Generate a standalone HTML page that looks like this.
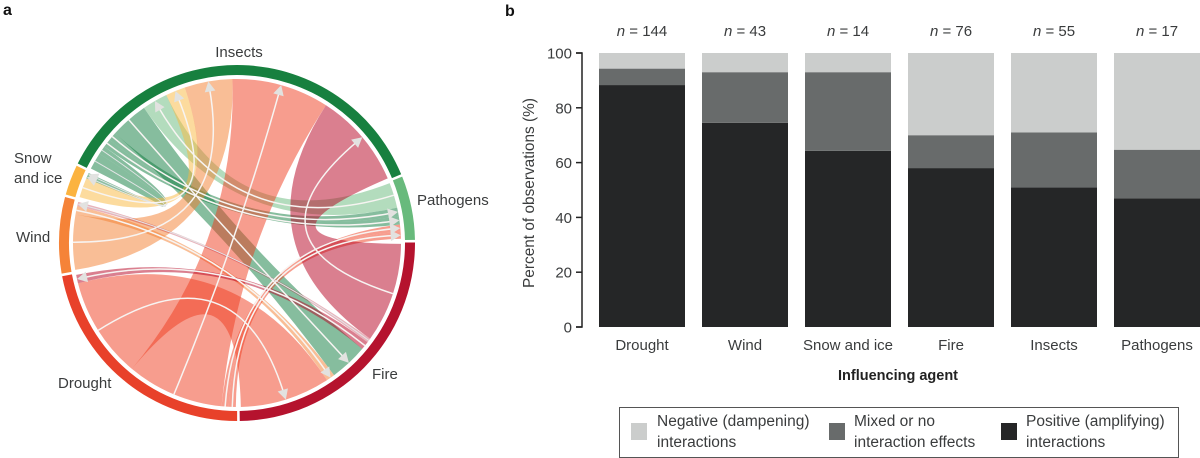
<!DOCTYPE html>
<html lang="en">
<head>
<meta charset="utf-8">
<title>Disturbance interactions</title>
<style>
html,body{margin:0;padding:0;background:#fff;width:1200px;height:458px;overflow:hidden}
svg{display:block}
text{font-family:"Liberation Sans",sans-serif;fill:#3a3c3d;font-size:15px}
.lg{font-size:15.5px}
</style>
</head>
<body>
<svg id="fig" width="1200" height="458" viewBox="0 0 1200 458" xmlns="http://www.w3.org/2000/svg">
  <text x="3" y="15" style="font-weight:bold;font-size:16px;fill:#111">a</text>
  <text x="505" y="16" style="font-weight:bold;font-size:16px;fill:#111">b</text>
  <g id="chord"></g>
  <g id="bars"></g>
  <text transform="translate(534,193) rotate(-90)" text-anchor="middle" style="font-size:15.4px">Percent of observations (%)</text>
  <text x="898" y="380" text-anchor="middle" style="font-weight:bold;font-size:14.5px;fill:#222">Influencing agent</text>
  <g>
    <rect x="619.5" y="407.5" width="559" height="50" fill="#fff" stroke="#555" stroke-width="1"/>
    <rect x="631" y="423" width="16" height="17" fill="#cbcdcc"/>
    <text class="lg" x="657" y="426">Negative (dampening)</text>
    <text class="lg" x="657" y="447">interactions</text>
    <rect x="829" y="423" width="16" height="17" fill="#686b6b"/>
    <text class="lg" x="854" y="426">Mixed or no</text>
    <text class="lg" x="854" y="447">interaction effects</text>
    <rect x="1001" y="423" width="16" height="17" fill="#252627"/>
    <text class="lg" x="1026" y="426">Positive (amplifying)</text>
    <text class="lg" x="1026" y="447">interactions</text>
  </g>
</svg>
<script>
// ---------- Panel b data ----------
const categories = ['Drought','Wind','Snow and ice','Fire','Insects','Pathogens'];
const sampleSizes = [144,43,14,76,55,17];
const positiveValues = [88.3,74.5,64.3,58,51,47];
const mixedValues = [6,18.5,28.7,12,20,17.7];
const negativeValues = [5.7,7,7,30,29,35.3];
const yTicks = [0,20,40,60,80,100];

// ---------- Panel a data (ribbon sizes in observations) ----------
const agents = ['Insects','Pathogens','Fire','Drought','Wind','Snow and ice'];
const ribbonFrom = ['Insects','Insects','Insects','Insects','Insects','Pathogens','Snow and ice','Wind','Drought','Fire','Drought','Drought','Fire','Fire','Wind','Drought'];
const ribbonTo = ['Snow and ice','Snow and ice','Pathogens','Pathogens','Fire','Insects','Insects','Insects','Insects','Insects','Pathogens','Pathogens','Wind','Drought','Fire','Fire'];
const ribbonValues = [12,6,6,6,27,18,14,39,69,71,5,5,3,6,6,72];
const ribbonArrivals = [2,2,6,6,27,18,14,34,69,68,5,5,3,6,6,64];
const threadFractions = [0.5,0.5,0.5,0.5,0.5,0.5,0.5,0.5,0.5,0.5,0.5,0.5,0.5,0.5,0.5,0.5];
// clockwise order of ribbon numbers around each agent's arc
const insectsSlots = [0,1,2,3,4,5,6,7,8,9];
const pathogensSlots = [5,3,2,11,10];
const fireSlots = [9,12,13,4,14,15];
const droughtSlots = [10,11,8,15,13];
const windSlots = [7,14,12];
const snowSlots = [6,1,0];

// ---------- Styles ----------
const SVGNS = 'http://www.w3.org/2000/svg';
const ringColors = {'Insects':'#17803f','Pathogens':'#68ba7c','Fire':'#b5132e','Drought':'#e8412a','Wind':'#f58338','Snow and ice':'#fbb340'};
const ribbonColors = {'Insects':'#0d7b3d','Pathogens':'#67b97b','Fire':'#b5001f','Drought':'#f03c1e','Wind':'#f37d2d','Snow and ice':'#f9b73d'};
const drawOrder = ['Insects','Pathogens','Snow and ice','Wind','Drought','Fire'];
const labelSpots = {
  'Insects':[[239,57,'middle']],
  'Pathogens':[[417,205,'start']],
  'Fire':[[372,379,'start']],
  'Drought':[[58,388,'start']],
  'Wind':[[16,242,'start']],
  'Snow and ice':[[14,163,'start','Snow'],[14,183,'start','and ice']]
};
const cx = 237, cy = 243, rRibbon = 164, rRingIn = 168, rRingOut = 178;

function pt(deg, r){
  const t = deg * Math.PI / 180;
  return [cx + r * Math.sin(t), cy - r * Math.cos(t)];
}
function fmt(p){ return p[0].toFixed(2) + ' ' + p[1].toFixed(2); }

function make(tag, parent){
  const el = document.createElementNS(SVGNS, tag);
  parent.appendChild(el);
  return el;
}

// ---------- Chord layout ----------
function drawChord(){
  const root = document.getElementById('chord');
  const slotLists = {'Insects':insectsSlots,'Pathogens':pathogensSlots,'Fire':fireSlots,'Drought':droughtSlots,'Wind':windSlots,'Snow and ice':snowSlots};
  const sizeOf = (agent, idx) => ribbonFrom[idx] === agent ? ribbonValues[idx] : ribbonArrivals[idx];
  const sums = agents.map(a => slotLists[a].reduce((s, i) => s + sizeOf(a, i), 0));
  const total = sums.reduce((s, v) => s + v, 0);
  const gapDeg = 1.75;
  const k = (360 - gapDeg * agents.length) / total;
  const fromSpan = {}, toSpan = {};
  let cursor = -63;
  agents.forEach((agent, n) => {
    const start = cursor;
    slotLists[agent].forEach(i => {
      const w = sizeOf(agent, i) * k;
      if (ribbonFrom[i] === agent) { fromSpan[i] = [cursor, cursor + w]; }
      else { toSpan[i] = [cursor, cursor + w]; }
      cursor += w;
    });
    const end = cursor;
    cursor += gapDeg;
    const a0 = pt(start - 0.45, rRingOut), a1 = pt(end + 0.45, rRingOut), b1 = pt(end + 0.45, rRingIn), b0 = pt(start - 0.45, rRingIn);
    const large = (end - start) > 180 ? 1 : 0;
    const ring = make('path', root);
    ring.setAttribute('d', `M${fmt(a0)}A${rRingOut} ${rRingOut} 0 ${large} 1 ${fmt(a1)}L${fmt(b1)}A${rRingIn} ${rRingIn} 0 ${large} 0 ${fmt(b0)}Z`);
    ring.setAttribute('fill', ringColors[agent]);
    
    
  });

  const order = ribbonFrom.map((f, i) => i).sort((p, q) => drawOrder.indexOf(ribbonFrom[p]) - drawOrder.indexOf(ribbonFrom[q]));
  const c = cx + ' ' + cy;
  order.forEach(i => {
    const [a0, a1] = fromSpan[i], [b0, b1] = toSpan[i];
    const r = rRibbon;
    const rib = make('path', root);
    rib.setAttribute('d', `M${fmt(pt(a0, r))}A${r} ${r} 0 0 1 ${fmt(pt(a1, r))}Q${c} ${fmt(pt(b0, r))}A${r} ${r} 0 0 1 ${fmt(pt(b1, r))}Q${c} ${fmt(pt(a0, r))}Z`);
    rib.setAttribute('fill', ribbonColors[ribbonFrom[i]]);
    rib.setAttribute('fill-opacity', i === 12 ? '0.3' : '0.5');
    
    
  });
  order.forEach(i => {
    const f = threadFractions[i];
    const [a0, a1] = fromSpan[i], [b0, b1] = toSpan[i];
    const a = a0 + f * (a1 - a0), b = b1 - f * (b1 - b0);
    const line = make('path', root);
    line.setAttribute('d', `M${fmt(pt(a, rRibbon))}Q${c} ${fmt(pt(b, rRibbon - 6))}`);
    line.setAttribute('fill', 'none');
    const thin = (i === 12 || i === 1 || i === 0);
    line.setAttribute('stroke', thin ? '#e3e5e6' : '#f7f4f2');
    line.setAttribute('stroke-width', thin ? '1' : '1.5');
    
    
    const tip = pt(b, rRibbon), left = pt(b - 2, rRibbon - 10), right = pt(b + 2, rRibbon - 10);
    const head = make('polygon', root);
    head.setAttribute('points', [tip, left, right].map(p => p[0].toFixed(2) + ',' + p[1].toFixed(2)).join(' '));
    head.setAttribute('fill', '#e2e2e0');
    
    
  });

  agents.forEach(agent => {
    labelSpots[agent].forEach(s => {
      const t = make('text', root);
      t.setAttribute('x', s[0]);
      t.setAttribute('y', s[1]);
      t.setAttribute('text-anchor', s[2]);
      t.textContent = s[3] || agent;
      
      
    });
  });
}

// ---------- Stacked bars ----------
function drawBars(){
  const root = document.getElementById('bars');
  const yScale = v => 327 - v * 2.74;
  const xScale = i => 599 + i * 103;
  const barWidth = 86;
  const axis = make('path', root);
  axis.setAttribute('d', `M576 ${yScale(100)}H582V${yScale(0)}H576`);
  axis.setAttribute('fill', 'none');
  axis.setAttribute('stroke', '#222');
  axis.setAttribute('stroke-width', '1.5');
  
  
  yTicks.forEach(v => {
    const tick = make('path', root);
    tick.setAttribute('d', `M576 ${yScale(v)}H582`);
    tick.setAttribute('stroke', '#222');
    tick.setAttribute('stroke-width', '1.5');
    
    
    const lab = make('text', root);
    lab.setAttribute('x', 572);
    lab.setAttribute('y', yScale(v) + 5.5);
    lab.setAttribute('text-anchor', 'end');
    lab.textContent = v;
    
    
  });
  categories.forEach((cat, i) => {
    const stacks = [[positiveValues[i], '#252627', 'positive'], [mixedValues[i], '#686b6b', 'mixed'], [negativeValues[i], '#cbcdcc', 'negative']];
    let base = 0;
    stacks.forEach(s => {
      const bar = make('rect', root);
      bar.setAttribute('x', xScale(i));
      bar.setAttribute('y', yScale(base + s[0]));
      bar.setAttribute('width', barWidth);
      bar.setAttribute('height', s[0] * 2.74);
      bar.setAttribute('fill', s[1]);
      
      
      base += s[0];
    });
    const lab = make('text', root);
    lab.setAttribute('x', xScale(i) + barWidth / 2);
    lab.setAttribute('y', 350);
    lab.setAttribute('text-anchor', 'middle');
    lab.textContent = cat;
    
    
    const nLab = make('text', root);
    nLab.setAttribute('x', xScale(i) + barWidth / 2);
    nLab.setAttribute('y', 36);
    nLab.setAttribute('text-anchor', 'middle');
    
    
    const ital = make('tspan', nLab);
    ital.setAttribute('font-style', 'italic');
    ital.textContent = 'n';
    const rest = make('tspan', nLab);
    rest.textContent = ' = ' + sampleSizes[i];
  });
}
drawChord();
drawBars();
</script>
</body>
</html>
